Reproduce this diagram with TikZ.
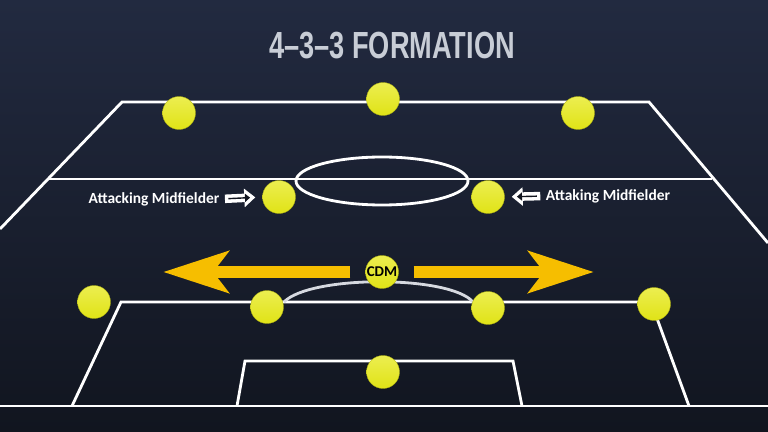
\documentclass[tikz,border=0pt]{standalone}
\usepackage{fontspec}
\setmainfont{Carlito}
\newfontfamily\titlefont{Liberation Sans}
\usepackage{tikz}
\usetikzlibrary{arrows.meta, positioning}
\definecolor{bgtop}{RGB}{34,42,64}
\definecolor{bgbottom}{RGB}{17,21,31}
\definecolor{playeryellow}{RGB}{224,227,22}
\definecolor{playerlight}{RGB}{236,238,80}
\definecolor{arrowgold}{RGB}{246,190,0}
\definecolor{titlegray}{RGB}{200,205,214}
\definecolor{arcgray}{RGB}{214,217,224}

\begin{document}
\begin{tikzpicture}[
        x=0.02cm, y=-0.02cm,
        player/.style={circle, top color=playerlight, bottom color=playeryellow, draw=playeryellow!80!black, very thin, minimum size=0.66cm, inner sep=0pt, font=\fontsize{8.5}{9}\selectfont\bfseries},
        pitchline/.style={draw=white, line width=1.6pt},
        label/.style={text=white, font=\fontsize{8.8}{10}\selectfont\bfseries, inner sep=1pt},
        bigarrow/.style={draw=arrowgold, line width=0.26cm, shorten <=0.3cm, -{Stealth[length=1.3cm, width=0.82cm, inset=0.3cm]}},
        hollowarrow/.style={draw=white, line width=0.17cm, shorten <=2pt, shorten >=4pt, -{Triangle[length=0.22cm, width=0.36cm]}},
        hollowinner/.style={draw=bgbottom, line width=0.8pt, shorten <=4pt, shorten >=7pt, -{Triangle[length=0.1cm, width=0.16cm]}}
    ]
        \useasboundingbox (0,0) rectangle (768,432);
        \fill[top color=bgtop, bottom color=bgbottom] (0,0) rectangle (768,432);

        % Title
        \node[text=titlegray, font=\titlefont\bfseries\fontsize{21.5}{22}\selectfont, xscale=0.72] (title) at (392,46) {4\textendash3\textendash3 FORMATION};

        % Attacking half
        \draw[pitchline] (0,229) -- (122,102) -- (649,102) -- (768,243);
        \draw[pitchline] (49,179) -- (712,179);
        \draw[pitchline] (382,181) ellipse (86 and 24);

        % Defending half
        \draw[pitchline] (0,406) -- (768,406);
        \draw[pitchline] (72,406) -- (121,302) -- (651,302) -- (689,406);
        \draw[pitchline] (237,406) -- (245,361) -- (513,361) -- (522,406);
        \draw[pitchline, draw=arcgray] (284,302) .. controls (310,275) and (450,275) .. (473,302);

        % Forwards
        \node[player] (lw) at (179,113) {};
        \node[player] (st) at (383,99) {};
        \node[player] (rw) at (578,113) {};

        % Midfield
        \node[player] (amleft) at (279,197) {};
        \node[player] (amright) at (488,197) {};
        \node[player] (cdm) at (382,272) {CDM};

        % Defence
        \node[player] (lb) at (94,302) {};
        \node[player] (lcb) at (267,307) {};
        \node[player] (rcb) at (488,308) {};
        \node[player] (rb) at (654,304) {};
        \node[player] (gk) at (383,372) {};

        % Labels
        \node[label] (amleftlbl) at (154,199) {Attacking Midfielder};
        \node[label] (amrightlbl) at (608,196) {Attaking Midfielder};

        % Arrows
        \coordinate (sweepleft) at (163,272);
        \coordinate (sweepright) at (594,272);
        \draw[bigarrow] (cdm) -- (sweepleft);
        \draw[bigarrow] (cdm) -- (sweepright);
        \draw[hollowarrow] (amleftlbl.east) -- (amleft.west);
        \draw[hollowinner] (amleftlbl.east) -- (amleft.west);
        \draw[hollowarrow] (amrightlbl.west) -- (amright.east);
        \draw[hollowinner] (amrightlbl.west) -- (amright.east);
    \end{tikzpicture}
\end{document}
